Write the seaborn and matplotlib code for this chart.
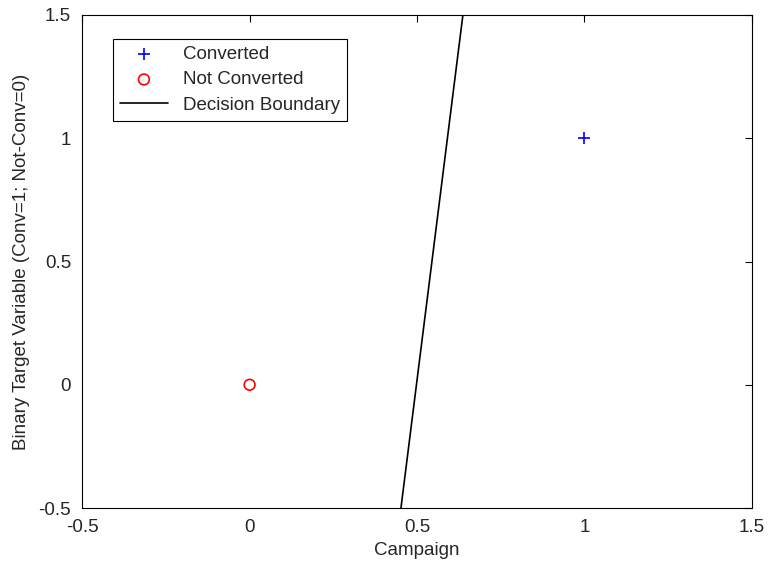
import matplotlib
matplotlib.use("Agg")
import matplotlib.pyplot as plt
import seaborn as sns
import pandas as pd

conv_x = [1]; conv_y = [1]
notconv_x = [0]; notconv_y = [0]
boundary_x = [0.452, 0.637]; boundary_y = [-0.5, 1.5]
xticks = [-0.5, 0, 0.5, 1, 1.5]
yticks = [-0.5, 0, 0.5, 1, 1.5]

sns.set_style("white")
plt.rcParams['font.family'] = ['Liberation Sans', 'DejaVu Sans']
fig = plt.figure(figsize=(7.68, 5.76), dpi=100)
ax = fig.add_axes([0.107, 0.118, 0.872, 0.856])

sns.scatterplot(data=pd.DataFrame({'x': conv_x, 'y': conv_y}), x='x', y='y', ax=ax,
                marker='+', color='blue', s=70, linewidth=1.2, label='Converted')
sns.scatterplot(data=pd.DataFrame({'x': notconv_x, 'y': notconv_y}), x='x', y='y', ax=ax,
                marker='o', facecolor='none', edgecolor='red', s=60, linewidth=1.2, label='Not Converted')
sns.lineplot(data=pd.DataFrame({'x': boundary_x, 'y': boundary_y}), x='x', y='y', ax=ax,
             color='black', linewidth=1.2, label='Decision Boundary')

ax.set_xlim(-0.5, 1.5); ax.set_ylim(-0.5, 1.5)
ax.set_xticks(xticks); ax.set_xticklabels([f"{t:g}" for t in xticks])
ax.set_yticks(yticks); ax.set_yticklabels([f"{t:g}" for t in yticks])
ax.tick_params(direction='in', length=5, labelsize=13.5, pad=8, top=True, right=True, color='black')
for s in ax.spines.values():
    s.set_color('black'); s.set_linewidth(0.8)
ax.set_xlabel('Campaign', fontsize=13.5, labelpad=4)
ax.set_ylabel('Binary Target Variable (Conv=1; Not-Conv=0)', fontsize=13.5, labelpad=6)
leg = ax.legend(loc='upper left', bbox_to_anchor=(0.032, 0.97), fontsize=13.5, fancybox=False,
                edgecolor='black', framealpha=1, borderpad=0.35, labelspacing=0.45, handlelength=2.6)
leg.get_frame().set_linewidth(0.8)
fig.savefig('out.png', dpi=100)
